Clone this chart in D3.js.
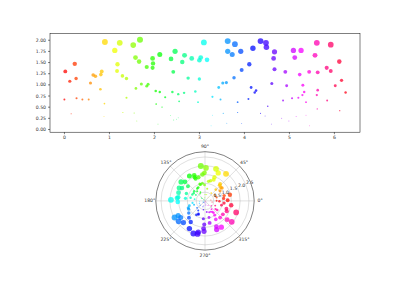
<!doctype html>
<html lang="en">
<head>
<meta charset="utf-8">
<title>Scatter on polar axis</title>
<script src="https://cdn.jsdelivr.net/npm/d3@7"></script>
<style>
  body { margin: 0; background: #fff; }
  text { font-family: "DejaVu Sans", sans-serif; }
</style>
</head>
<body>
<svg id="chart" width="400" height="281"></svg>
<script>
// angle (radians) and radius of each point
var theta = [0.01,0.03,0.13,0.16,0.24,0.27,0.28,0.41,0.55,0.59,0.65,0.70,0.81,0.82,0.84,0.89,0.90,0.91,
  1.13,1.18,1.19,1.24,1.30,1.31,1.39,1.39,1.54,1.56,1.59,1.60,1.62,1.67,1.69,1.72,1.84,1.84,1.87,1.97,1.98,1.97,
  2.04,2.05,2.09,2.13,2.13,2.18,2.25,2.37,2.38,2.41,2.43,2.44,2.47,2.50,2.54,2.54,2.56,2.63,2.67,2.68,2.76,2.84,2.92,2.98,
  3.01,3.01,3.04,3.11,3.18,3.30,3.30,3.27,3.44,3.48,3.53,3.54,3.61,3.62,3.64,3.64,3.74,3.78,3.80,3.86,3.86,3.95,3.93,3.95,
  4.10,4.12,4.16,4.20,4.24,4.27,4.37,4.37,4.47,4.49,4.50,4.53,4.62,4.61,4.66,4.68,4.68,4.84,4.87,4.92,4.95,
  5.00,5.07,5.10,5.13,5.16,5.21,5.24,5.27,5.30,5.31,5.34,5.38,5.38,5.45,5.46,5.58,5.62,5.62,5.63,5.64,5.64,5.84,5.85,5.93,5.93,
  6.03,6.12,6.13,6.17,6.26];
var radius = [0.66,1.29,1.07,0.34,1.46,1.13,0.69,0.66,0.66,1.03,1.21,1.18,0.89,1.22,1.29,0.28,0.57,1.95,
  1.76,1.30,1.45,1.93,1.19,0.37,1.13,0.70,1.88,0.36,1.60,0.91,0.18,1.51,2.00,1.01,1.39,0.96,1.00,1.58,1.47,1.37,
  0.85,0.56,0.11,1.67,0.83,0.49,0.71,0.30,1.57,0.83,1.28,0.20,1.74,0.22,0.78,0.25,0.62,1.50,0.81,1.65,1.14,1.58,0.84,0.60,
  1.54,1.12,1.60,1.94,1.55,0.72,0.31,0.07,0.93,0.66,1.03,0.35,1.04,0.13,1.97,1.74,1.67,1.15,1.90,0.37,0.60,1.32,1.74,0.12,
  0.67,1.45,0.93,1.81,0.82,0.86,1.97,0.35,0.29,1.93,1.83,0.51,1.02,0.11,1.58,1.73,1.34,0.24,0.64,1.28,0.97,
  0.18,0.69,1.76,1.60,0.28,0.70,1.22,1.76,0.76,0.98,0.83,0.31,0.60,1.28,0.07,1.65,1.93,0.76,0.45,1.27,0.87,1.37,0.64,1.89,1.30,
  0.97,1.51,0.41,1.09,0.82];

var xTicks = [0, 1, 2, 3, 4, 5, 6];
var yTicks = [0, 0.25, 0.5, 0.75, 1.0, 1.25, 1.5, 1.75, 2.0];
var angleTicks = [0, 45, 90, 135, 180, 225, 270, 315];
var rTicks = [0.5, 1.0, 1.5, 2.0, 2.5];

var data = theta.map(function(t, i) { return {t: t, r: radius[i]}; });

// matplotlib "hsv" colormap
var hsvR = d3.scaleLinear().domain([0,0.158730,0.174603,0.333333,0.349206,0.666667,0.682540,0.841270,0.857143,1])
  .range([1,1,0.96875,0.03125,0,0,0.03125,0.96875,1,1]);
var hsvG = d3.scaleLinear().domain([0,0.158730,0.174603,0.507937,0.666667,0.682540,1])
  .range([0,0.9375,1,1,0.0625,0,0]);
var hsvB = d3.scaleLinear().domain([0,0.333333,0.349206,0.507937,0.841270,0.857143,1])
  .range([0,0,0.0625,1,1,0.9375,0.09375]);
var norm = d3.scaleLinear().domain(d3.extent(theta)).range([0, 1]);
function color(t) {
  var v = norm(t);
  return d3.rgb(hsvR(v) * 255, hsvG(v) * 255, hsvB(v) * 255).toString();
}
function size(r) { return Math.max(0.45, 1.5 * r); }

var svg = d3.select("#chart");

// ---- top: cartesian scatter ----
var plotLeft = 50, plotRight = 360, plotTop = 33.5, plotBottom = 132.2;
var x = d3.scaleLinear().domain([-0.31, 6.58]).range([plotLeft, plotRight]);
var y = d3.scaleLinear().domain([-0.072, 2.14]).range([plotBottom, plotTop]);

var gx = svg.append("g")
  .attr("transform", "translate(0," + plotBottom + ")")
  .call(d3.axisBottom(x).tickValues(xTicks).tickSize(2).tickPadding(2).tickFormat(d3.format("d")));
var gy = svg.append("g")
  .attr("transform", "translate(" + plotLeft + ",0)")
  .call(d3.axisLeft(y).tickValues(yTicks).tickSize(2).tickPadding(2).tickFormat(d3.format(".2f")));
[gx, gy].forEach(function(g) {
  g.select(".domain").remove();
  g.selectAll("line").attr("stroke", "#000").attr("stroke-width", 0.5);
  g.selectAll("text").attr("font-size", 4.6).attr("fill", "#333").style("font-family", "DejaVu Sans");
});

svg.append("g").selectAll("circle")
  .data(data)
  .enter()
  .append("circle")
  .attr("cx", function(d) { return x(d.t); })
  .attr("cy", function(d) { return y(d.r); })
  .attr("r", function(d) { return size(d.r); })
  .attr("fill", function(d) { return color(d.t); })
  .attr("fill-opacity", 0.75);

svg.append("rect")
  .attr("x", plotLeft).attr("y", plotTop)
  .attr("width", plotRight - plotLeft).attr("height", plotBottom - plotTop)
  .attr("fill", "none").attr("stroke", "#000").attr("stroke-width", 0.5);

// ---- bottom: polar scatter ----
var cx = 205, cy = 200.9, R = 49.2;
var rs = d3.scaleLinear().domain([0, 2.8]).range([0, R]);
var polar = svg.append("g").attr("transform", "translate(" + cx + "," + cy + ")");

polar.selectAll(".rgrid")
  .data(rTicks)
  .enter()
  .append("circle")
  .attr("r", function(d) { return rs(d); })
  .attr("fill", "none").attr("stroke", "#b0b0b0").attr("stroke-width", 0.4);

polar.selectAll(".agrid")
  .data(angleTicks)
  .enter()
  .append("line")
  .attr("x1", 0).attr("y1", 0)
  .attr("x2", function(d) { return R * Math.cos(d * Math.PI / 180); })
  .attr("y2", function(d) { return -R * Math.sin(d * Math.PI / 180); })
  .attr("stroke", "#b0b0b0").attr("stroke-width", 0.4);

polar.selectAll(".pt")
  .data(data)
  .enter()
  .append("circle")
  .attr("cx", function(d) { return rs(d.r) * Math.cos(d.t); })
  .attr("cy", function(d) { return -rs(d.r) * Math.sin(d.t); })
  .attr("r", function(d) { return size(d.r); })
  .attr("fill", function(d) { return color(d.t); })
  .attr("fill-opacity", 0.75);

polar.append("circle")
  .attr("r", R).attr("fill", "none").attr("stroke", "#000").attr("stroke-width", 0.5);

polar.selectAll(".alabel")
  .data(angleTicks)
  .enter()
  .append("text")
  .attr("x", function(d) { return (R + 6) * Math.cos(d * Math.PI / 180); })
  .attr("y", function(d) { return -(R + 5) * Math.sin(d * Math.PI / 180); })
  .attr("text-anchor", "middle")
  .attr("dominant-baseline", "central")
  .attr("font-size", 4.6).attr("fill", "#333")
  .text(function(d) { return d + "°"; });

var ra = 22.5 * Math.PI / 180;
polar.selectAll(".rlabel")
  .data(rTicks)
  .enter()
  .append("text")
  .attr("x", function(d) { return rs(d) * Math.cos(ra) + 0.5; })
  .attr("y", function(d) { return -rs(d) * Math.sin(ra) - 0.5; })
  .attr("text-anchor", "start")
  .attr("font-size", 4.6).attr("fill", "#333")
  .text(function(d) { return d.toFixed(1); });
</script>
</body>
</html>
